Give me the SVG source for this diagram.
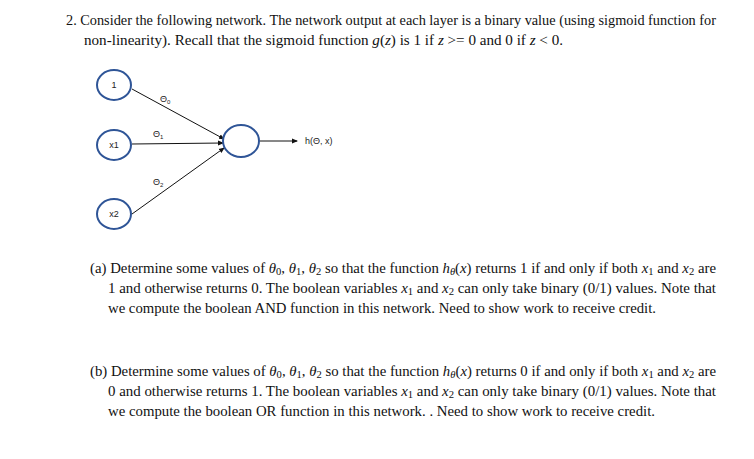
<svg xmlns="http://www.w3.org/2000/svg" width="754" height="459" viewBox="0 0 754 459">
<style>
.t{font-family:"Liberation Serif",serif;font-size:14px;fill:#111}
.s{font-family:"Liberation Sans",sans-serif;font-size:9px;fill:#222}
.n{fill:#fff;stroke:#2f5597;stroke-width:2}
.c{stroke:#111;stroke-width:1;fill:none;marker-end:url(#a)}
</style>
<defs><marker id="a" markerWidth="6" markerHeight="6" refX="5" refY="3" orient="auto" markerUnits="userSpaceOnUse"><path d="M0,0.5L6,3L0,5.5z" fill="#111"/></marker></defs>
<rect width="754" height="459" fill="#fff"/>
<text class="t" x="66" y="25" textLength="650" lengthAdjust="spacingAndGlyphs">2. Consider the following network. The network output at each layer is a binary value (using sigmoid function for</text>
<text class="t" x="84" y="45" textLength="479" lengthAdjust="spacingAndGlyphs">non-linearity). Recall that the sigmoid function <tspan font-style="italic">g</tspan>(<tspan font-style="italic">z</tspan>) is 1 if <tspan font-style="italic">z</tspan> &gt;= 0 and 0 if <tspan font-style="italic">z</tspan> &lt; 0.</text>
<g id="connectors">
<line class="c" x1="132" y1="89" x2="224" y2="139"/>
<line class="c" x1="132" y1="144" x2="223" y2="143"/>
<line class="c" x1="132" y1="214" x2="224" y2="148"/>
<line class="c" x1="260" y1="141" x2="297" y2="141"/>
</g>
<g id="n1"><ellipse class="n" cx="114" cy="85" rx="17" ry="15"/><text class="s" x="114" y="88" text-anchor="middle">1</text></g>
<g id="nx1"><ellipse class="n" cx="114" cy="145" rx="17" ry="15"/><text class="s" x="114" y="148" text-anchor="middle">x1</text></g>
<g id="nx2"><ellipse class="n" cx="114" cy="214" rx="17" ry="15"/><text class="s" x="114" y="217" text-anchor="middle">x2</text></g>
<g id="nout"><ellipse class="n" cx="241" cy="141" rx="18" ry="16"/></g>
<text class="s" x="160" y="102">Θ<tspan font-size="6" dy="2">0</tspan></text>
<text class="s" x="153" y="137">Θ<tspan font-size="6" dy="2">1</tspan></text>
<text class="s" x="153" y="185">Θ<tspan font-size="6" dy="2">2</tspan></text>
<text class="s" x="305" y="144">h(Θ, x)</text>
<text class="t" x="90" y="273" textLength="626" lengthAdjust="spacingAndGlyphs">(a) Determine some values of <tspan font-style="italic">θ</tspan><tspan font-size="10" dy="2">0</tspan><tspan dy="-2">, </tspan><tspan font-style="italic">θ</tspan><tspan font-size="10" dy="2">1</tspan><tspan dy="-2">, </tspan><tspan font-style="italic">θ</tspan><tspan font-size="10" dy="2">2</tspan><tspan dy="-2"> so that the function </tspan><tspan font-style="italic">h</tspan><tspan font-size="10" font-style="italic" dy="2">θ</tspan><tspan dy="-2">(</tspan><tspan font-style="italic">x</tspan>) returns 1 if and only if both <tspan font-style="italic">x</tspan><tspan font-size="10" dy="2">1</tspan><tspan dy="-2"> and </tspan><tspan font-style="italic">x</tspan><tspan font-size="10" dy="2">2</tspan><tspan dy="-2"> are</tspan></text>
<text class="t" x="108" y="293" textLength="608" lengthAdjust="spacingAndGlyphs">1 and otherwise returns 0. The boolean variables <tspan font-style="italic">x</tspan><tspan font-size="10" dy="2">1</tspan><tspan dy="-2"> and </tspan><tspan font-style="italic">x</tspan><tspan font-size="10" dy="2">2</tspan><tspan dy="-2"> can only take binary (0/1) values. Note that</tspan></text>
<text class="t" x="108" y="313" textLength="548" lengthAdjust="spacingAndGlyphs">we compute the boolean AND function in this network. Need to show work to receive credit.</text>
<text class="t" x="90" y="376" textLength="626" lengthAdjust="spacingAndGlyphs">(b) Determine some values of <tspan font-style="italic">θ</tspan><tspan font-size="10" dy="2">0</tspan><tspan dy="-2">, </tspan><tspan font-style="italic">θ</tspan><tspan font-size="10" dy="2">1</tspan><tspan dy="-2">, </tspan><tspan font-style="italic">θ</tspan><tspan font-size="10" dy="2">2</tspan><tspan dy="-2"> so that the function </tspan><tspan font-style="italic">h</tspan><tspan font-size="10" font-style="italic" dy="2">θ</tspan><tspan dy="-2">(</tspan><tspan font-style="italic">x</tspan>) returns 0 if and only if both <tspan font-style="italic">x</tspan><tspan font-size="10" dy="2">1</tspan><tspan dy="-2"> and </tspan><tspan font-style="italic">x</tspan><tspan font-size="10" dy="2">2</tspan><tspan dy="-2"> are</tspan></text>
<text class="t" x="108" y="396" textLength="608" lengthAdjust="spacingAndGlyphs">0 and otherwise returns 1. The boolean variables <tspan font-style="italic">x</tspan><tspan font-size="10" dy="2">1</tspan><tspan dy="-2"> and </tspan><tspan font-style="italic">x</tspan><tspan font-size="10" dy="2">2</tspan><tspan dy="-2"> can only take binary (0/1) values. Note that</tspan></text>
<text class="t" x="108" y="416" textLength="547" lengthAdjust="spacingAndGlyphs">we compute the boolean OR function in this network. . Need to show work to receive credit.</text>
</svg>
